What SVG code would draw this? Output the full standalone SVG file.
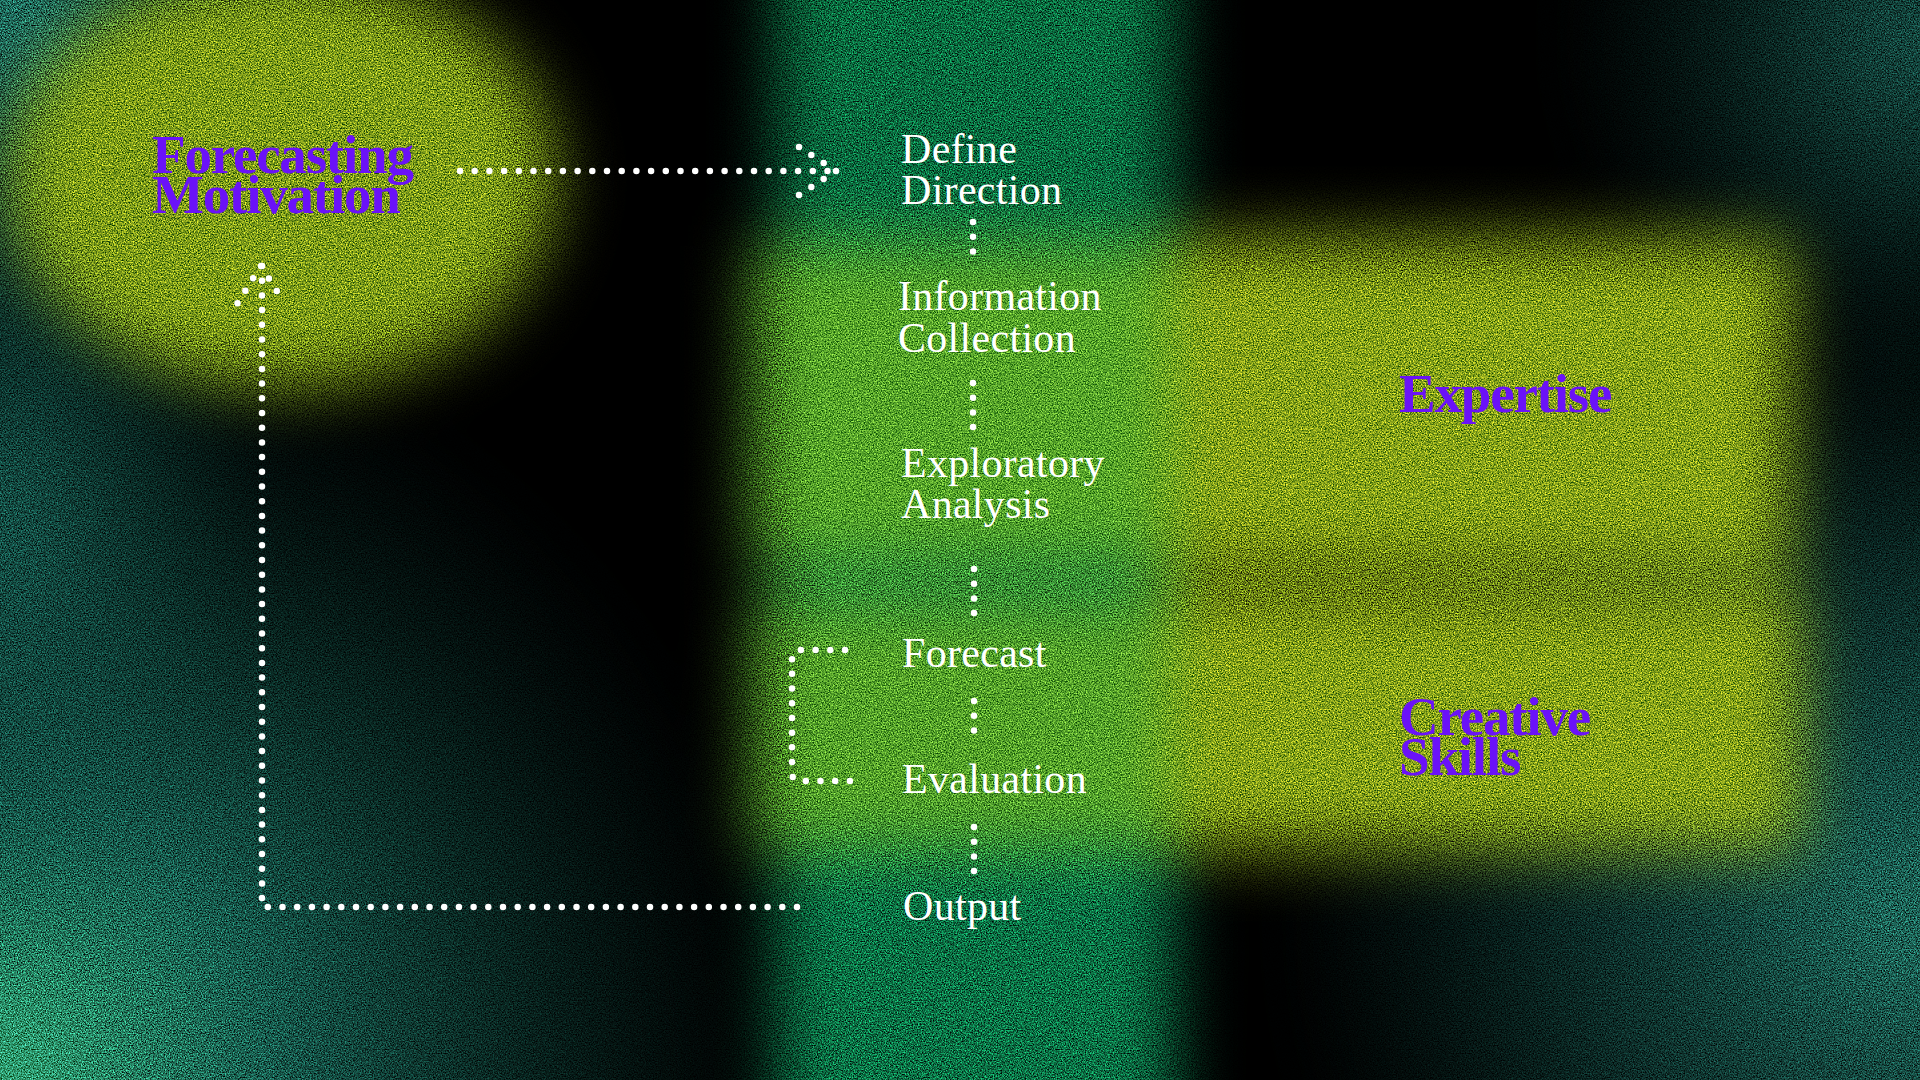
<svg xmlns="http://www.w3.org/2000/svg" width="1920" height="1080" viewBox="0 0 1920 1080">
<defs>
<style>
.lbl{font-family:"Liberation Serif","Times New Roman",serif;font-size:42px;fill:#ffffff;letter-spacing:0.3px}
.cat{font-family:"Liberation Serif","Times New Roman",serif;font-weight:bold;font-size:55px;fill:#6a12f8;letter-spacing:-1.2px}
.dot{fill:none;stroke:#ffffff;stroke-width:6.5;stroke-linecap:round;stroke-linejoin:round;stroke-dasharray:0 14.7}
</style>
<filter id="bg" filterUnits="userSpaceOnUse" x="-100" y="-100" width="2120" height="1280" color-interpolation-filters="sRGB">
<feGaussianBlur in="SourceGraphic" stdDeviation="32" result="b"/>
<feTurbulence type="fractalNoise" baseFrequency="0.75" numOctaves="2" seed="7" result="t"/>
<feColorMatrix in="t" type="matrix" values="1.8 0 0 0 -0.4  1.8 0 0 0 -0.4  1.8 0 0 0 -0.4  0 0 0 0 1" result="g"/>
<feBlend in="g" in2="b" mode="overlay"/>
</filter>
<radialGradient id="tBL" cx="0" cy="1080" r="780" gradientUnits="userSpaceOnUse">
<stop offset="0" stop-color="#32a472"/><stop offset="0.35" stop-color="#1d7060" stop-opacity="0.8"/><stop offset="1" stop-color="#0c3a33" stop-opacity="0"/>
</radialGradient>
<radialGradient id="tL" cx="0" cy="520" r="380" gradientUnits="userSpaceOnUse" gradientTransform="translate(0 520) scale(0.7 1.2) translate(0 -520)">
<stop offset="0" stop-color="#195e53" stop-opacity="0.85"/><stop offset="1" stop-color="#0c3a33" stop-opacity="0"/>
</radialGradient>
<radialGradient id="tTL" cx="0" cy="0" r="420" gradientUnits="userSpaceOnUse">
<stop offset="0" stop-color="#247a6a"/><stop offset="1" stop-color="#0c3a33" stop-opacity="0"/>
</radialGradient>
<radialGradient id="tR" cx="1920" cy="920" r="640" gradientUnits="userSpaceOnUse">
<stop offset="0" stop-color="#1f6a5c"/><stop offset="0.5" stop-color="#154a43" stop-opacity="0.6"/><stop offset="1" stop-color="#0c3a33" stop-opacity="0"/>
</radialGradient>
<radialGradient id="tTR" cx="1920" cy="40" r="360" gradientUnits="userSpaceOnUse">
<stop offset="0" stop-color="#1a5a50" stop-opacity="0.85"/><stop offset="1" stop-color="#0c3a33" stop-opacity="0"/>
</radialGradient>
<linearGradient id="band" x1="0" y1="0" x2="0" y2="1">
<stop offset="0" stop-color="#0b683d"/><stop offset="1" stop-color="#0c7045"/>
</linearGradient>
</defs>

<g id="background" filter="url(#bg)">
<rect x="-100" y="-100" width="2120" height="1280" fill="#000000"/>
<rect x="-100" y="-100" width="2120" height="1280" fill="url(#tBL)"/>
<rect x="-100" y="-100" width="2120" height="1280" fill="url(#tL)"/>
<rect x="-100" y="-100" width="2120" height="1280" fill="url(#tTL)"/>
<rect x="-100" y="-100" width="2120" height="1280" fill="url(#tR)"/>
<rect x="-100" y="-100" width="2120" height="1280" fill="url(#tTR)"/>
<ellipse cx="282" cy="178" rx="272" ry="208" fill="#7c9a1a"/>
<rect x="778" y="-100" width="395" height="1280" fill="url(#band)"/>
<rect x="1150" y="240" width="640" height="332" fill="#84a01a"/>
<rect x="1150" y="590" width="650" height="258" fill="#84a01a"/>
<rect x="755" y="246" width="415" height="318" fill="#56a22a"/>
<rect x="755" y="598" width="415" height="250" fill="#549f2a"/>
</g>

<g id="connectors">
<path class="dot" d="M460 171 H836"/>
<path class="dot" d="M799 147 L836 171 L799 195"/>
<path class="dot" d="M973 222 V266"/>
<path class="dot" d="M973 383 V428"/>
<path class="dot" d="M974 569 V614"/>
<path class="dot" d="M974 701 V745"/>
<path class="dot" d="M974 827 V872"/>
<path class="dot" d="M845 650 H800 Q792 650 792 658 V773 Q792 781 800 781 H858"/>
<path class="dot" d="M797 907 H262 V266"/>
<path class="dot" d="M237.5 303.2 L261 266 L284.5 303.2"/>
</g>

<g id="node-forecasting-motivation">
<text class="cat" x="152" y="173">Forecasting</text>
<text class="cat" x="152" y="213">Motivation</text>
</g>
<g id="node-define-direction">
<text class="lbl" x="901" y="163">Define</text>
<text class="lbl" x="901" y="204">Direction</text>
</g>
<g id="node-information-collection">
<text class="lbl" x="898" y="310">Information</text>
<text class="lbl" x="898" y="352">Collection</text>
</g>
<g id="node-exploratory-analysis">
<text class="lbl" x="901" y="477">Exploratory</text>
<text class="lbl" x="901" y="518">Analysis</text>
</g>
<g id="node-forecast">
<text class="lbl" x="902" y="667">Forecast</text>
</g>
<g id="node-evaluation">
<text class="lbl" x="902" y="793">Evaluation</text>
</g>
<g id="node-output">
<text class="lbl" x="903" y="920">Output</text>
</g>
<g id="node-expertise">
<text class="cat" x="1399" y="412">Expertise</text>
</g>
<g id="node-creative-skills">
<text class="cat" x="1399" y="735">Creative</text>
<text class="cat" x="1399" y="775">Skills</text>
</g>
</svg>
